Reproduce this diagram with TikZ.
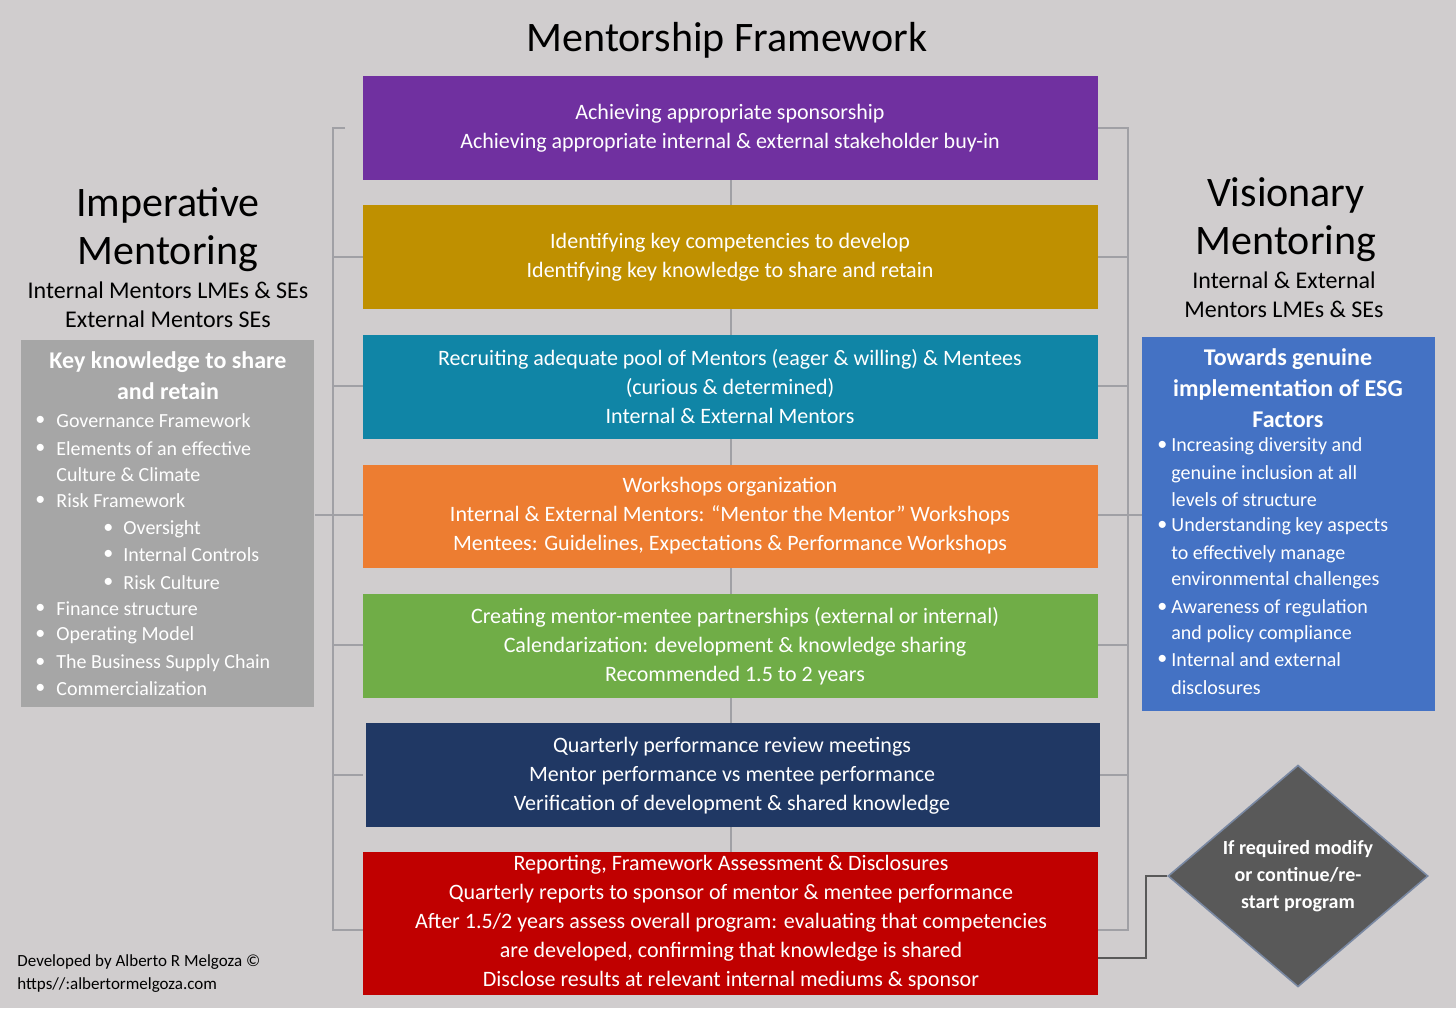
\documentclass[tikz,border=0pt]{standalone}
\usepackage{fontspec}
\setmainfont{Carlito}
\usetikzlibrary{shapes.geometric}
\definecolor{bg}{RGB}{208,205,206}
\definecolor{cpurple}{RGB}{112,48,160}
\definecolor{cgold}{RGB}{191,144,0}
\definecolor{cteal}{RGB}{16,133,166}
\definecolor{corange}{RGB}{237,125,49}
\definecolor{cgreen}{RGB}{112,173,71}
\definecolor{cnavy}{RGB}{32,56,100}
\definecolor{cred}{RGB}{192,0,0}
\definecolor{cgray}{RGB}{166,166,166}
\definecolor{cblue}{RGB}{68,114,196}
\definecolor{cdark}{RGB}{89,89,89}
\definecolor{cline}{RGB}{160,160,165}
\tikzset{
 box/.style={draw=none,text=white,align=center,font=\fontsize{11}{14.5}\selectfont},
 conn/.style={draw=cline,line width=1.2pt},
 li/.style={anchor=west,inner sep=0,text=white,font=\fontsize{10}{12}\selectfont},
}
\begin{document}
\begin{tikzpicture}[x=0.5pt,y=-0.5pt]
\fill[bg] (0,0) rectangle (1456,1008);
\useasboundingbox (0,0) rectangle (1456,1008);
% brackets
\draw[conn] (345,128) -| (333,930) -- (363,930);
\draw[conn] (1098,128) -| (1128,930) -- (1098,930);
\foreach \y in {257,386,645,775}{\draw[conn] (333,\y) -- (363,\y); \draw[conn] (1098,\y) -- (1128,\y);}
\draw[conn] (315,515) -- (363,515);
\draw[conn] (1098,515) -- (1143,515);
\draw[conn] (731,180) -- (731,852);
% boxes
\newcommand{\bx}[5]{\fill[#1] (#2) rectangle (#3); \node[box] at ($(#2)!0.5!(#3)$) {#4};}
\fill[cpurple] (363,76) rectangle (1098,180);
\node[box] (b1) at (730,128) {Achieving appropriate sponsorship\\Achieving appropriate internal \& external stakeholder buy-in};
\fill[cgold] (363,205) rectangle (1098,309);
\node[box] (b2) at (730,257) {Identifying key competencies to develop\\Identifying key knowledge to share and retain};
\fill[cteal] (363,335) rectangle (1098,439);
\node[box] (b3) at (730,387) {Recruiting adequate pool of Mentors (eager \& willing) \& Mentees\\(curious \& determined)\\Internal \& External Mentors};
\fill[corange] (363,465) rectangle (1098,568);
\node[box] (b4) at (730,516) {Workshops organization\\Internal \& External Mentors: “Mentor the Mentor” Workshops\\Mentees: Guidelines, Expectations \& Performance Workshops};
\fill[cgreen] (363,594) rectangle (1098,698);
\node[box] (b5) at (735,646) {Creating mentor-mentee partnerships (external or internal)\\Calendarization: development \& knowledge sharing\\Recommended 1.5 to 2 years};
\fill[cnavy] (366,723) rectangle (1100,827);
\node[box] (b6) at (732,776) {Quarterly performance review meetings\\Mentor performance vs mentee performance\\Verification of development \& shared knowledge};
\fill[cred] (363,852) rectangle (1098,995);
\node[box] (b7) at (731,923) {Reporting, Framework Assessment \& Disclosures\\Quarterly reports to sponsor of mentor \& mentee performance\\After 1.5/2 years assess overall program: evaluating that competencies\\are developed, confirming that knowledge is shared\\Disclose results at relevant internal mediums \& sponsor};
% title
\node[font=\fontsize{21}{24}\selectfont] (title) at (727,40) {Mentorship Framework};
% left heading
\node[align=center,font=\fontsize{21}{24}\selectfont] (imp) at (168,230) {Imperative\\Mentoring};
\node[align=center,font=\fontsize{12}{14.5}\selectfont] (impsub) at (168,305) {Internal Mentors LMEs \& SEs\\External Mentors SEs};
\fill[cgray] (21,340) rectangle (314,707);
\node[align=center,text=white,font=\bfseries\fontsize{12}{15.5}\selectfont] (kh) at (168,376) {Key knowledge to share\\and retain};
\foreach \y/\t in {421/Governance Framework,449/Elements of an effective,501/Risk Framework,609/Finance structure,635/Operating Model,663/The Business Supply Chain,689/Commercialization}{
 \node[li] at (35,\y) {•}; \node[li] at (56,\y) {\t};}
\node[li] at (56,475) {Culture \& Climate};
\foreach \y/\t in {529/Oversight,555/Internal Controls,583/Risk Culture}{
 \node[li] at (103,\y) {•}; \node[li] at (123,\y) {\t};}
% right heading
\node[align=center,font=\fontsize{21}{24}\selectfont] (vis) at (1286,220) {Visionary\\Mentoring};
\node[align=center,font=\fontsize{12}{14.5}\selectfont] (vissub) at (1284,295) {Internal \& External\\Mentors LMEs \& SEs};
\fill[cblue] (1142,337) rectangle (1435,711);
\node[align=center,text=white,font=\bfseries\fontsize{12}{15.5}\selectfont] (eh) at (1288,388) {Towards genuine\\implementation of ESG\\Factors};
\foreach \y/\t in {446/Increasing diversity and,526/Understanding key aspects,608/Awareness of regulation,660/Internal and external}{
 \node[li] at (1157,\y) {•};}
\foreach \y/\t in {446/Increasing diversity and,474/genuine inclusion at all,500/levels of structure,526/Understanding key aspects,554/to effectively manage,580/environmental challenges,608/Awareness of regulation,634/and policy compliance,660/Internal and external,688/disclosures/communication}{
 \node[li] at (1171,\y) {\t};}
% diamond
\node[diamond,fill=cdark,draw=cnavy!60,line width=0.8pt,minimum width=130pt,minimum height=100pt,inner sep=0,text=white,align=center,font=\bfseries\fontsize{10}{13.5}\selectfont] (dm) at (1298,876) {If required modify\\or continue/re-\\start program};
\draw[draw=cdark,line width=1.2pt] (dm.west) -- (1146,876) |- (1098,958);
% footer
\node[anchor=west,inner sep=0,font=\fontsize{8.5}{10}\selectfont] (f1) at (17,962) {Developed by Alberto R Melgoza ©};
\node[anchor=west,inner sep=0,font=\fontsize{8.5}{10}\selectfont] (f2) at (17,985) {https//:albertormelgoza.com};
\end{tikzpicture}
\end{document}
